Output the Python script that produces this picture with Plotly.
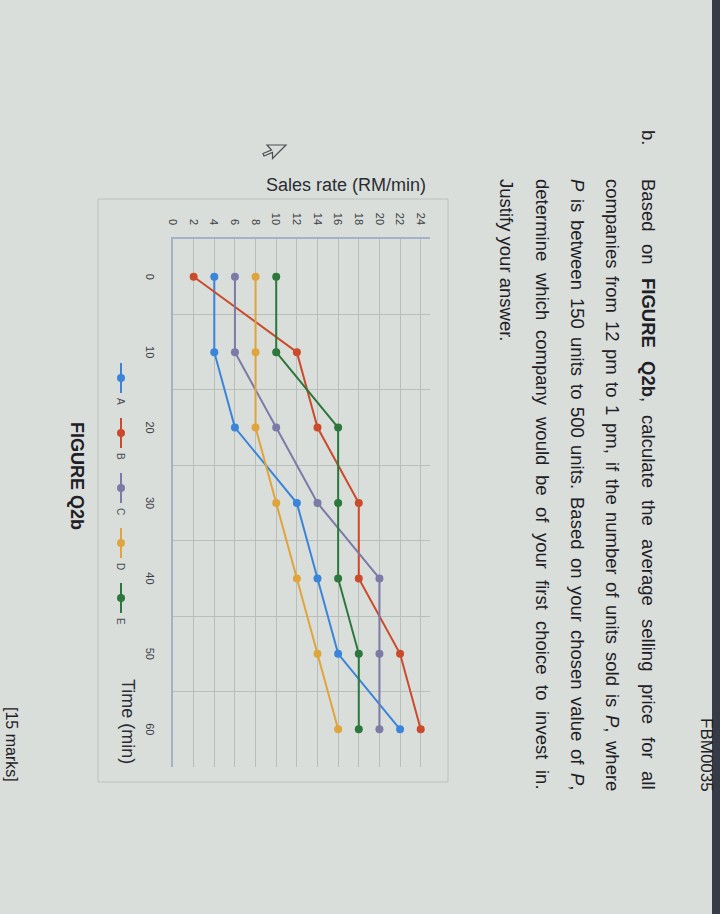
import re
import plotly.graph_objects as go

# ---------------- data ----------------
time_min = [0, 10, 20, 30, 40, 50, 60]
company_names = ["A", "B", "C", "D", "E"]
sales_A = [4, 4, 6, 12, 14, 16, 22]
sales_B = [2, 12, 14, 18, 18, 22, 24]
sales_C = [6, 6, 10, 14, 20, 20, 20]
sales_D = [8, 8, 8, 10, 12, 14, 16]
sales_E = [10, 10, 16, 16, 16, 18, 18]
series = [sales_A, sales_B, sales_C, sales_D, sales_E]
colors = ["#3A84DA", "#CC4A2C", "#7C7AA6", "#E0A43C", "#2C773C"]

time_ticks = [0, 10, 20, 30, 40, 50, 60]
time_minor_grid = [5, 15, 25, 35, 45, 55, 65]
sales_ticks = list(range(0, 25, 2))

paragraph_justified = [
    "Based on <b>FIGURE</b> <b>Q2b</b>, calculate the average selling price for all",
    "companies from 12 pm to 1 pm, if the number of units sold is <i>P</i>, where",
    "<i>P</i> is between 150 units to 500 units. Based on your chosen value of <i>P</i>,",
    "determine which company would be of your first choice to invest in.",
]
paragraph_last = "Justify your answer."

# ---------------- layout geometry (un-rotated page frame, px) ----------------
W, H = 914, 720
L, R, T, B = 239, 147, 290, 173
PW, PH = W - L - R, H - T - B


def px(u):
    return (u - L) / PW


def py(v):
    return (H - B - v) / PH


# Arial / Liberation Sans advance widths (1/1000 em)
REG = dict(zip(" ,.-:;()[]/P", [278, 278, 278, 333, 278, 278, 333, 333, 278, 278, 278, 667]))
REG.update(dict(zip("abcdefghijklmnopqrstuvwxyz",
                    [556, 556, 500, 556, 556, 278, 556, 556, 222, 222, 500, 222, 833,
                     556, 556, 556, 556, 333, 500, 278, 556, 500, 722, 500, 500, 500])))
REG.update({c: 556 for c in "0123456789"})
REG.update(dict(zip("ABCDEFGHIJKLMNOQRSTUVWXYZ",
                    [667, 667, 722, 722, 667, 611, 778, 722, 278, 500, 667, 556, 833,
                     722, 778, 778, 722, 667, 611, 722, 667, 944, 667, 667, 611])))
BOLD = dict(zip("ABCDEFGHIJKLMNOPQRSTUVWXYZ",
                [722, 722, 722, 722, 667, 611, 778, 722, 278, 556, 722, 611, 833,
                 722, 778, 667, 778, 722, 667, 611, 722, 667, 944, 667, 667, 611]))
BOLD.update(dict(zip("abcdefghijklmnopqrstuvwxyz",
                     [556, 611, 556, 611, 556, 333, 611, 611, 278, 278, 556, 278, 889,
                      611, 611, 611, 611, 389, 556, 333, 611, 556, 778, 556, 556, 500])))
BOLD.update({c: 556 for c in "0123456789"})
BOLD.update({",": 278, ".": 278, " ": 278})


def text_width(tok, size):
    w = 0
    for m in re.finditer(r"<b>(.*?)</b>|<i>(.*?)</i>|([^<]+)", tok):
        if m.group(1) is not None:
            s, tab = m.group(1), BOLD
        elif m.group(2) is not None:
            s, tab = m.group(2), REG
        else:
            s, tab = m.group(3), REG
        w += sum(tab.get(c, 556) for c in s)
    return w * size / 1000


FONT = "Liberation Sans, Arial, sans-serif"
BG = "#D9DEDA"
INK = "#1e2026"
TXT = 18.5

fig = go.Figure()
for name, vals, col in zip(company_names, series, colors):
    fig.add_trace(go.Scatter(
        x=time_min, y=vals, name=name, mode="lines+markers",
        line=dict(color=col, width=2),
        marker=dict(color=col, size=8),
    ))

annotations = [
    dict(text="Sales rate (RM/min)", textangle=-90, x=px(185), y=py(292),
         xanchor="center", yanchor="top", font=dict(size=18, color="#2a2d33")),
    dict(text="Time (min)", x=px(766), y=py(592), xanchor="right", yanchor="middle",
         font=dict(size=18, color="#2a2d33")),
    dict(text="<b>FIGURE Q2b</b>", x=px(476), y=py(643), xanchor="center", yanchor="middle",
         font=dict(size=18, color=INK)),
    dict(text="b.", x=px(128), y=py(72), xanchor="left", yanchor="middle",
         font=dict(size=TXT, color=INK)),
    dict(text="FBM0035", x=px(794), y=py(14), xanchor="right", yanchor="middle",
         font=dict(size=17, color=INK)),
    dict(text="[15 marks]", x=px(784), y=py(708), xanchor="right", yanchor="middle",
         font=dict(size=16, color=INK)),
    dict(text=paragraph_last, x=px(177), y=py(72 + 35.3 * 4), xanchor="left",
         yanchor="middle", font=dict(size=TXT, color=INK)),
]

# justified paragraph lines: every word placed so the line fills 177 -> 788 px
U0, U1 = 177, 788
for i, line in enumerate(paragraph_justified):
    words = line.split(" ")
    widths = [text_width(w, TXT) for w in words]
    gap = (U1 - U0 - sum(widths)) / (len(words) - 1)
    u = U0
    for w, wd in zip(words, widths):
        annotations.append(dict(text=w, x=px(u), y=py(72 + 35.3 * i), xanchor="left",
                                yanchor="middle", font=dict(size=TXT, color=INK)))
        u += wd + gap

for a in annotations:
    a.update(xref="paper", yref="paper", showarrow=False)

shapes = [
    # chart outer frame
    dict(type="rect", xref="paper", yref="paper", x0=px(199), x1=px(782), y0=py(622), y1=py(272),
         line=dict(color="#BAC2BE", width=1)),
    # dark edge of the photographed screen
    dict(type="rect", xref="paper", yref="paper", x0=px(0), x1=px(W), y0=py(8), y1=py(0),
         line=dict(width=0), fillcolor="#363B47"),
    # mouse pointer outline
    dict(type="path", xref="paper", yref="paper", xsizemode="pixel", ysizemode="pixel",
         xanchor=px(145), yanchor=py(434),
         path="M 0 0 L 0 -19 L 5 -14.5 L 8.5 -23 L 11 -22 L 7.5 -13.5 L 13.5 -13.5 Z",
         line=dict(color="#4a4e55", width=1.2), fillcolor="rgba(0,0,0,0)"),
]

fig.update_layout(
    width=W, height=H,
    margin=dict(l=L, r=R, t=T, b=B),
    paper_bgcolor=BG, plot_bgcolor=BG,
    font=dict(family=FONT, color="#3c3f45", size=11),
    showlegend=True,
    legend=dict(orientation="h", x=px(358), y=py(599), xanchor="left", yanchor="middle",
                font=dict(size=10, color="#4a4d52"), bgcolor="rgba(0,0,0,0)",
                entrywidth=10, entrywidthmode="pixels"),
    annotations=annotations,
    shapes=shapes,
    xaxis=dict(range=[-5, 65], tickmode="array", tickvals=time_ticks, showgrid=False,
               zeroline=False, showline=True, linecolor="#A3B2C8", linewidth=1.5,
               ticks="outside", ticklen=12,
               tickcolor="rgba(0,0,0,0)", tickfont=dict(size=11, color="#3c3f45"),
               minor=dict(tickmode="array", tickvals=time_minor_grid, showgrid=True,
                          gridcolor="#B7BFBB", gridwidth=1, ticks="")),
    yaxis=dict(range=[0, 24.9], tickmode="array", tickvals=sales_ticks, showgrid=True,
               gridcolor="#B7BFBB", gridwidth=1, zeroline=False,
               showline=True, linecolor="#A3B2C8", linewidth=1.5,
               ticks="outside", ticklen=10, tickcolor="rgba(0,0,0,0)",
               tickfont=dict(size=11, color="#3c3f45")),
)

post = """
var gd = document.getElementById('{plot_id}');
document.documentElement.style.overflow = 'hidden';
document.body.style.margin = '0';
document.body.style.overflow = 'hidden';
gd.style.position = 'absolute';
gd.style.left = '0px';
gd.style.top = '0px';
gd.style.transformOrigin = '0 0';
gd.style.transform = 'translate(720px, 0px) rotate(90deg)';
"""

fig.write_html("out.html", config=dict(displayModeBar=False), post_script=post)
